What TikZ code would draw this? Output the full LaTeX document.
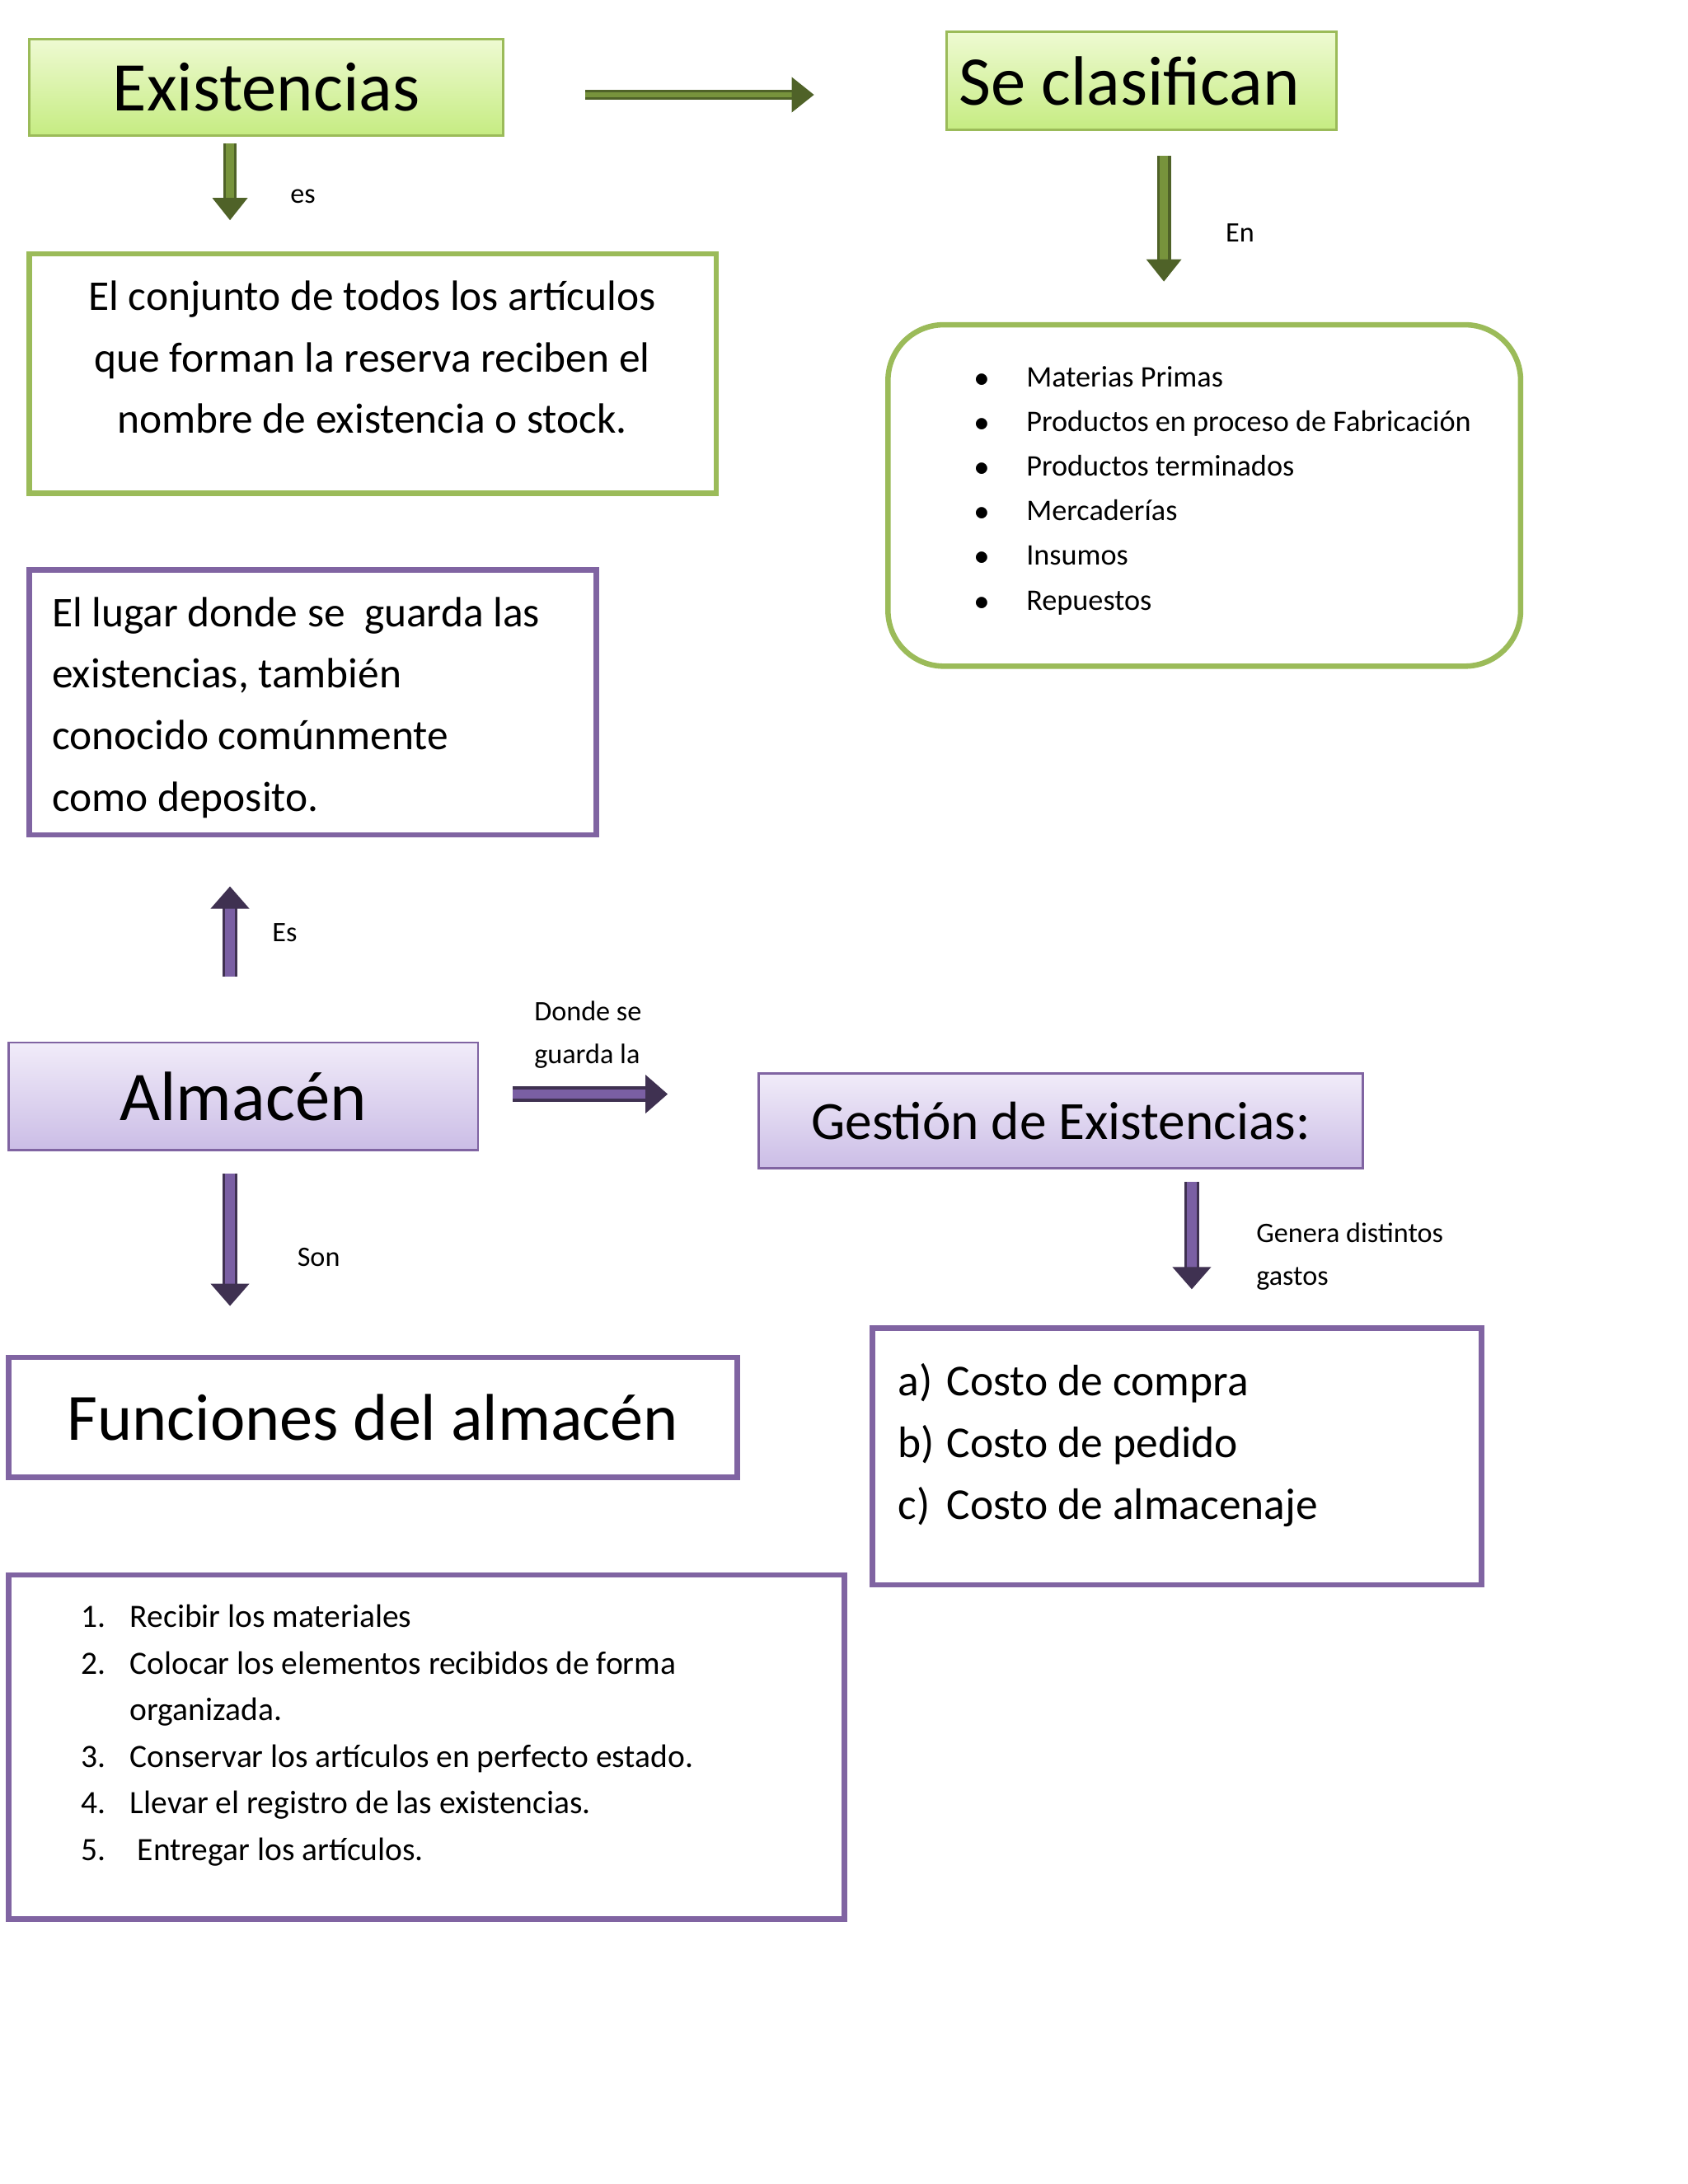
\documentclass[tikz,border=0pt]{standalone}
\usepackage{fontspec}
\setmainfont{Carlito}
\usetikzlibrary{arrows.meta}
\definecolor{gline}{HTML}{9BBB59}
\definecolor{gtop}{HTML}{EEFAD2}
\definecolor{gbot}{HTML}{C6EC82}
\definecolor{gdark}{HTML}{4F6228}
\definecolor{gfill}{HTML}{77933C}
\definecolor{pline}{HTML}{8064A2}
\definecolor{ptop}{HTML}{F1ECF9}
\definecolor{pbot}{HTML}{CBBDE6}
\definecolor{pdark}{HTML}{3F3151}
\definecolor{pfill}{HTML}{7A5FA3}
\newcommand{\fs}[2]{\fontsize{#1}{#2}\selectfont}
\begin{document}
\begin{tikzpicture}[x=0.02cm,y=-0.02cm,
  gtitle/.style={draw=gline,line width=1pt,top color=gtop,bottom color=gbot,inner sep=0pt},
  ptitle/.style={draw=pline,line width=1pt,top color=ptop,bottom color=pbot,inner sep=0pt},
  gbox/.style={draw=gline,line width=2.2pt,fill=white,inner sep=0pt},
  pbox/.style={draw=pline,line width=2.2pt,fill=white,inner sep=0pt},
  garr/.style={draw=gdark,line width=0.04cm,double=gfill,double distance=0.12cm,-{Triangle[length=0.32cm,width=0.5cm]}},
  parr/.style={draw=pdark,line width=0.04cm,double=pfill,double distance=0.14cm,-{Triangle[length=0.32cm,width=0.55cm]}},
  lbl/.style={font=\fs{11.5}{17.6},align=left,anchor=west,inner sep=0pt}]
\useasboundingbox[fill=white] (0,0) rectangle (1211,1567);
% titles
\node[gtitle,minimum width=6.8cm,minimum height=1.38cm,font=\fs{28.5}{30}] (exist) at (191,62.5) {Existencias};
\node[gtitle,minimum width=5.6cm,minimum height=1.4cm,font=\fs{28.5}{30}] (clasif) at (819,58) {\hspace*{-0.35cm}Se clasifican};
\node[ptitle,minimum width=6.74cm,minimum height=1.54cm,font=\fs{28.5}{30}] (almacen) at (174.5,786.5) {Almacén};
\node[ptitle,minimum width=8.68cm,minimum height=1.36cm,font=\fs{22}{24}] (gestion) at (761,804) {Gestión de Existencias:};
% boxes
\node[gbox,minimum width=9.86cm,minimum height=3.44cm] (conjunto) at (267.5,268) {};
\node[anchor=north,inner sep=0pt,align=center,font=\fs{17.3}{25.2}] (conjtxt) at (267,201)
  {El conjunto de todos los artículos\\que forman la reserva reciben el\\nombre de existencia o stock.};
\node[gbox,rounded corners=0.8cm,minimum width=9.08cm,minimum height=4.9cm] (tipos) at (864,355.5) {};
\node[anchor=north west,inner sep=0pt,font=\fs{12.2}{18.2}] (tiposlist) at (699,255)
  {\begin{tabular}{@{}p{0.74cm}@{}l@{}}
   $\bullet$ & Materias Primas\\
   $\bullet$ & Productos en proceso de Fabricación\\
   $\bullet$ & Productos terminados\\
   $\bullet$ & Mercaderías\\
   $\bullet$ & Insumos\\
   $\bullet$ & Repuestos
   \end{tabular}};
\node[pbox,minimum width=8.14cm,minimum height=3.8cm] (lugar) at (224.5,504) {};
\node[anchor=north west,inner sep=0pt,align=left,font=\fs{17.3}{25.2}] (lugartxt) at (37,428)
  {El lugar donde se\ \ guarda las\\existencias, también\\conocido comúnmente\\como deposito.};
\node[pbox,minimum width=10.46cm,minimum height=1.72cm,font=\fs{27}{28}] (funciones) at (267.5,1017) {Funciones del almacén};
\node[pbox,minimum width=8.74cm,minimum height=3.68cm] (costos) at (844.5,1045) {};
\node[anchor=north west,inner sep=0pt,font=\fs{18}{25.3}] (costlist) at (644,970)
  {\begin{tabular}{@{}p{0.7cm}@{}l@{}}
   a) & Costo de compra\\
   b) & Costo de pedido\\
   c) & Costo de almacenaje
   \end{tabular}};
\node[pbox,minimum width=12cm,minimum height=4.94cm] (funclist) at (306,1253.5) {};
\node[anchor=north west,inner sep=0pt,font=\fs{13.3}{19}] (funcitems) at (58,1144)
  {\begin{tabular}{@{}p{0.7cm}@{}l@{}}
   1. & Recibir los materiales\\
   2. & Colocar los elementos recibidos de forma\\
      & organizada.\\
   3. & Conservar los artículos en perfecto estado.\\
   4. & Llevar el registro de las existencias.\\
   5. & \ Entregar los artículos.
   \end{tabular}};
% arrows
\coordinate (h1) at (420,68); \coordinate (h2) at (584,68);
\draw[garr,double distance=0.07cm] (h1) -- (h2);
\coordinate (a1) at (165,103); \coordinate (a2) at (165,158);
\draw[garr] (a1) -- (a2);
\node[lbl] (les) at (208,141) {es};
\coordinate (b1) at (835,112); \coordinate (b2) at (835,202);
\draw[garr] (b1) -- (b2);
\node[lbl] (len) at (879,167) {En};
\coordinate (c1) at (165,701); \coordinate (c2) at (165,636);
\draw[parr] (c1) -- (c2);
\node[lbl] (les2) at (195,669) {Es};
\coordinate (d1) at (368,785); \coordinate (d2) at (479,785);
\draw[parr] (d1) -- (d2);
\node[lbl,anchor=north west] (ldonde) at (383,718) {Donde se\\guarda la};
\coordinate (e1) at (855,848); \coordinate (e2) at (855,925);
\draw[parr] (e1) -- (e2);
\node[lbl,anchor=north west] (lgenera) at (901,877) {Genera distintos\\gastos};
\coordinate (f1) at (165,842); \coordinate (f2) at (165,937);
\draw[parr] (f1) -- (f2);
\node[lbl] (lson) at (213,902) {Son};
\end{tikzpicture}
\end{document}
